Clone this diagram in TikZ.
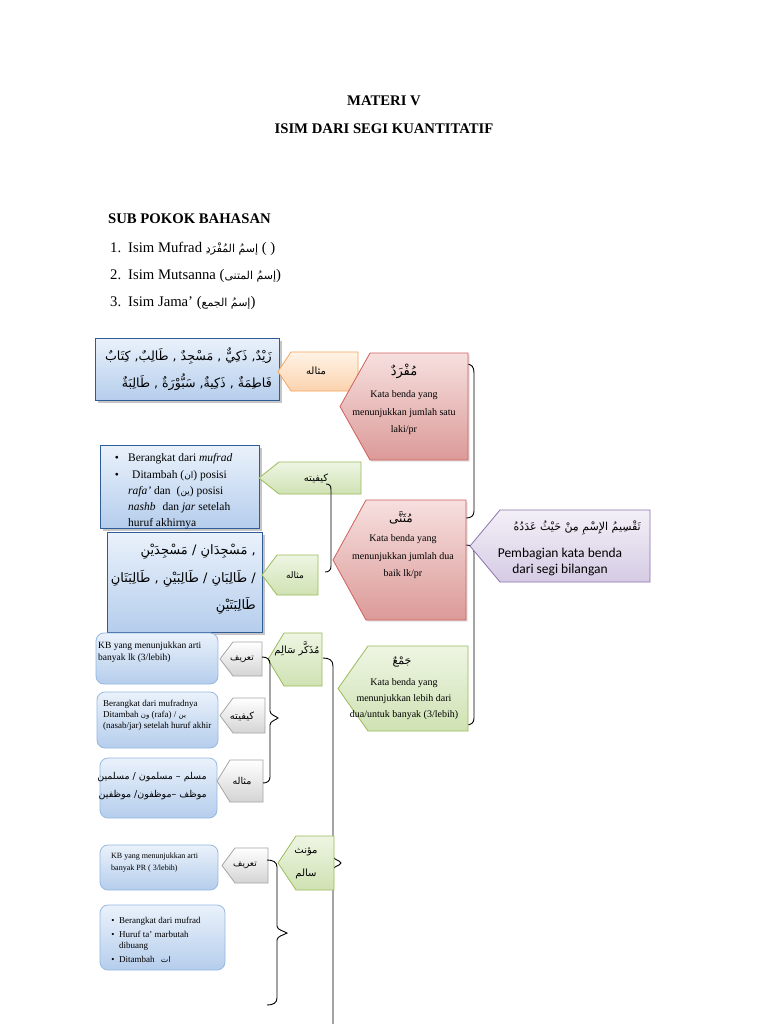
\documentclass[tikz,border=0pt]{standalone}
\usepackage{fontspec}
\setmainfont{Liberation Serif}
\newfontfamily\arab[Script=Arabic]{DejaVu Sans}
\newfontfamily\calib{Carlito}
\TeXXeTstate=1
\usetikzlibrary{shadows,calc}
\definecolor{blueB}{HTML}{2F5C96}
\definecolor{blueT}{HTML}{EAF2FB}
\definecolor{blueD}{HTML}{B5CDEC}
\definecolor{blueL}{HTML}{95B8E3}
\definecolor{redB}{HTML}{D0605C}
\definecolor{redT}{HTML}{F6E0DF}
\definecolor{redD}{HTML}{DB9A98}
\definecolor{grnB}{HTML}{9BBB59}
\definecolor{grnT}{HTML}{EEF5E3}
\definecolor{grnD}{HTML}{CFE2B3}
\definecolor{orgB}{HTML}{F7A35C}
\definecolor{orgT}{HTML}{FFF3E6}
\definecolor{orgD}{HTML}{FBD3AE}
\definecolor{purB}{HTML}{8D73B0}
\definecolor{purT}{HTML}{F3F0F7}
\definecolor{purD}{HTML}{D5CBE4}
\definecolor{gryB}{HTML}{A6A6A6}
\definecolor{gryD}{HTML}{D4D4D4}
\newcommand\fs[1]{\fontsize{#1}{#1}\selectfont}
% pentagon pointing left: style, x1, y1, x2, y2, depth
\newcommand\hplate[6]{\path[#1] (#2,{(#3+#5)/2}) -- ({#2+#6},#3) -- (#4,#3) -- (#4,#5) -- ({#2+#6},#5) -- cycle;}
\begin{document}
\begin{tikzpicture}[x=1pt,y=-1pt,
  every node/.style={inner sep=0pt},
  bluebox/.style={draw=blueB, line width=1pt, top color=blueT, bottom color=blueD,
     drop shadow={opacity=0.45, shadow xshift=2.5pt, shadow yshift=-2.5pt}},
  softbox/.style={draw=blueL, line width=0.8pt, rounded corners=8pt, top color=blueT, bottom color=blueD},
  redshape/.style={draw=redB, line width=0.8pt, top color=redT, bottom color=redD,
     drop shadow={opacity=0.25, shadow xshift=1.5pt, shadow yshift=-1.5pt}},
  grnshape/.style={draw=grnB, line width=0.8pt, top color=grnT, bottom color=grnD},
  orgshape/.style={draw=orgB, line width=0.8pt, top color=orgT, bottom color=orgD},
  purshape/.style={draw=purB, line width=0.8pt, top color=purT, bottom color=purD},
  gryshape/.style={draw=gryB, line width=0.8pt, top color=white, bottom color=gryD},
  brace/.style={draw=black, line width=0.9pt},
  ar/.style={font=\arab\fs{#1}},
  tx/.style={font=\fs{#1}}]
\path[fill=white] (0,0) rectangle (768,1024);
\useasboundingbox (0,0) rectangle (768,1024);

% ---------- header ----------
\node[font=\bfseries\fs{14.7}, anchor=base] (t1) at (384,106) {MATERI V};
\node[font=\bfseries\fs{14.7}, anchor=base] (t2) at (384,134) {ISIM DARI SEGI KUANTITATIF};
\node[font=\bfseries\fs{14.7}, anchor=base west] (sub) at (108,224) {SUB POKOK BAHASAN};
\node[tx=14.7, anchor=base west] (i1) at (110,252) {1.\hspace{7pt}Isim Mufrad {\arab\fs{11}\beginR إسمُ المُفْرَدِ\endR} ( )};
\node[tx=14.7, anchor=base west] (i2) at (110,279) {2.\hspace{7pt}Isim Mutsanna ({\arab\fs{11}\beginR إسمُ المتنى\endR})};
\node[tx=14.7, anchor=base west] (i3) at (110,306) {3.\hspace{7pt}Isim Jama’ ({\arab\fs{11}\beginR إسمُ الجمع\endR})};

% ---------- right brace of red boxes ----------
\coordinate (b1a) at (466,364);
\coordinate (b1b) at (466,518);
\coordinate (b1c) at (466,545);
\coordinate (b1d) at (466,725);
\draw[brace] (b1a) .. controls (472,364) and (474,367) .. (474,373) -- (474,511) .. controls (474,516) and (471,518) .. (b1b);
\draw[brace] (b1c) .. controls (471,545) and (474,547) .. (474,552) -- (474,718) .. controls (474,723) and (471,725) .. (b1d);

% ---------- top-left example box ----------
\path[bluebox] (95,338) rectangle (279,400);
\node[ar=12.6, anchor=base east] (a1) at (272,360) {\beginR زَيْدٌ, ذَكِيٌّ , مَسْجِدٌ , طَالِبٌ, كِتَابٌ\endR};
\node[ar=12.6, anchor=base east] (a2) at (272,387) {\beginR فَاطِمَةٌ , ذَكِيةٌ, سَبُّوْرَةٌ , طَالِبَةٌ\endR};

\hplate{orgshape}{278}{352}{358}{391}{13}
\node[ar=10] (mitsal1) at (316,371) {مثاله};

% ---------- mufrad ----------
\hplate{redshape}{340}{353}{468}{460}{30}
\node[ar=13] (mufrad) at (404,371) {مُفْرَدٌ};
\node[tx=10, anchor=base] (m1) at (404,397) {Kata benda yang};
\node[tx=10, anchor=base] (m2) at (404,415) {menunjukkan jumlah satu};
\node[tx=10, anchor=base] (m3) at (404,432) {laki/pr};

% ---------- box D ----------
\path[bluebox] (100,445) rectangle (259,528);
\begin{scope}
\clip (100,445) rectangle (259,528);
\node[tx=11.5, anchor=base] (d0) at (117,461) {\textbullet};
\node[tx=11.5, anchor=base west] (d1) at (128,461) {Berangkat dari \textit{mufrad}};
\node[tx=11.5, anchor=base] (d0b) at (117,478) {\textbullet};
\node[tx=11.5, anchor=base west] (d2) at (132,478) {Ditambah ({\arab\fs{9}ان}) posisi};
\node[tx=11.5, anchor=base west] (d3) at (128,494) {\textit{rafa’} dan\hspace{6pt}({\arab\fs{9}ين}) posisi};
\node[tx=11.5, anchor=base west] (d4) at (128,510) {\textit{nashb}\hspace{4pt} dan \textit{jar} setelah};
\node[tx=11.5, anchor=base west] (d5) at (128,526) {huruf akhirnya};
\end{scope}

\hplate{grnshape}{259}{462}{361}{494}{20}
\node[ar=10] (kaif1) at (316,478) {كيفيته};

% ---------- box F ----------
\path[bluebox] (107,532) rectangle (262,632);
\node[ar=13, anchor=base east] (f1) at (256,554) {\beginR , مَسْجِدَانِ / مَسْجِدَيْنِ\endR};
\node[ar=13, anchor=base east] (f2) at (256,582) {\beginR / طَالِبَانِ / طَالِبَيْنِ , طَالِبَتَانِ\endR};
\node[ar=13, anchor=base east] (f3) at (256,609) {طَالِبَتَيْنِ};

\hplate{grnshape}{262}{555}{318}{595}{15}
\node[ar=9] (mitsal2) at (295,575) {مثاله};

% bracket kaifiyyah - mitsal
\coordinate (b2a) at (326,484);
\coordinate (b2b) at (325,572);
\draw[brace] (b2a) .. controls (330,484) and (331,486) .. (331,490) -- (331,566) .. controls (331,570) and (329,572) .. (b2b);

% ---------- mutsanna ----------
\hplate{redshape}{333}{500}{466}{620}{33}
\node[ar=12] (mutsanna) at (401,518) {مُثَنَّى};
\node[tx=10, anchor=base] (n1) at (403,541) {Kata benda yang};
\node[tx=10, anchor=base] (n2) at (403,559) {menunjukkan jumlah dua};
\node[tx=10, anchor=base] (n3) at (403,576) {baik lk/pr};

% ---------- purple ----------
\hplate{purshape}{470}{510}{650}{582}{30}
\node[ar=11, anchor=base east] (taqsim) at (641,530) {\beginR تَقْسِيمُ الإِسْمِ مِنْ حَيْثُ عَدَدُهُ\endR};
\node[font=\calib\fs{13.5}, anchor=base] (p1) at (560,557) {Pembagian kata benda};
\node[font=\calib\fs{13.5}, anchor=base] (p2) at (560,573) {dari segi bilangan};

% ---------- jamak ----------
\hplate{grnshape}{338}{646}{468}{731}{30}
\node[ar=11] (jama) at (402,662) {جَمْعٌ};
\node[tx=10, anchor=base] (j1) at (404,685) {Kata benda yang};
\node[tx=10, anchor=base] (j2) at (404,701) {menunjukkan lebih dari};
\node[tx=10, anchor=base] (j3) at (404,717) {dua/untuk banyak (3/lebih)};

% ---------- big brace (mudzakkar / muannats) ----------
\coordinate (b3a) at (323,658);
\coordinate (b3b) at (333,1024);
\draw[brace] (b3a) .. controls (329,658) and (333,660) .. (333,666) -- (333,856) .. controls (333,860) and (340,860) .. (341,863) .. controls (340,866) and (333,866) .. (333,870) -- (b3b);

% ---------- mudzakkar salim ----------
\hplate{grnshape}{268}{633}{322}{686}{16}
\node[ar=10] (mudz) at (297,649) {\beginR مُذَكَّر سَالِم\endR};

\path[softbox] (96,633) rectangle (218,684);
\node[tx=9.5, anchor=base west] (k1) at (98,648) {KB yang menunjukkan arti};
\node[tx=9.5, anchor=base west] (k1b) at (98,660) {banyak lk (3/lebih)};

\hplate{gryshape}{220}{642}{262}{676}{13}
\node[ar=9] (tarif1) at (242,659) {تعريف};

\path[softbox] (97,692) rectangle (218,748);
\node[tx=9, anchor=base west] (k2) at (103,706) {Berangkat dari mufradnya};
\node[tx=9, anchor=base west] (k2b) at (103,717) {Ditambah {\arab\fs{7}ون} (rafa) / {\arab\fs{7}ين}};
\node[tx=9, anchor=base west] (k2c) at (103,728) {(nasab/jar) setelah huruf akhir};

\hplate{gryshape}{220}{698}{265}{733}{13}
\node[ar=10] (kaif2) at (242,716) {كيفيته};

\path[softbox] (100,758) rectangle (217,818);
\node[ar=9.5, anchor=base east] (k3) at (207,779) {\beginR مسلم – مسلمون / مسلمين\endR};
\node[ar=9.5, anchor=base east] (k3b) at (207,797) {\beginR موظف –موظفون/ موظفين\endR};

\hplate{gryshape}{217}{760}{263}{802}{13}
\node[ar=9.5] (mitsal3) at (242,781) {مثاله};

% brace mudzakkar group
\coordinate (b4a) at (262,657);
\coordinate (b4b) at (263,783);
\draw[brace] (b4a) .. controls (267,657) and (270,659) .. (270,664) -- (270,711) .. controls (270,715) and (276,716) .. (278,718) .. controls (276,720) and (270,721) .. (270,725) -- (270,777) .. controls (270,781) and (267,783) .. (b4b);

% ---------- muannats salim ----------
\hplate{grnshape}{278}{836}{334}{890}{18}
\node[ar=10] (muan1) at (306,852) {مؤنث};
\node[ar=10] (muan2) at (306,874) {سالم};

\path[softbox] (100,845) rectangle (218,890);
\node[tx=8, anchor=base west] (k4) at (111,858) {KB yang menunjukkan arti};
\node[tx=8, anchor=base west] (k4b) at (111,870) {banyak PR ( 3/lebih)};

\hplate{gryshape}{222}{848}{268}{883}{13}
\node[ar=9] (tarif2) at (245,865) {تعريف};

\path[softbox] (100,905) rectangle (225,970);
\node[tx=9, anchor=base] (e0) at (113,923) {\textbullet};
\node[tx=9, anchor=base west] (e1) at (119,923) {Berangkat dari mufrad};
\node[tx=9, anchor=base] (e0b) at (113,937) {\textbullet};
\node[tx=9, anchor=base west] (e2) at (119,937) {Huruf ta’ marbutah};
\node[tx=9, anchor=base west] (e3) at (119,948) {dibuang};
\node[tx=9, anchor=base] (e0c) at (113,962) {\textbullet};
\node[tx=9, anchor=base west] (e4) at (119,962) {Ditambah\hspace{4pt} {\arab\fs{8}ات}};

% brace muannats group
\coordinate (b5a) at (267,860);
\coordinate (b5b) at (267,1005);
\draw[brace] (b5a) .. controls (273,860) and (277,862) .. (277,867) -- (277,926) .. controls (277,930) and (284,931) .. (287,933) .. controls (284,935) and (277,936) .. (277,940) -- (277,998) .. controls (277,1003) and (273,1005) .. (b5b);
\end{tikzpicture}
\end{document}
